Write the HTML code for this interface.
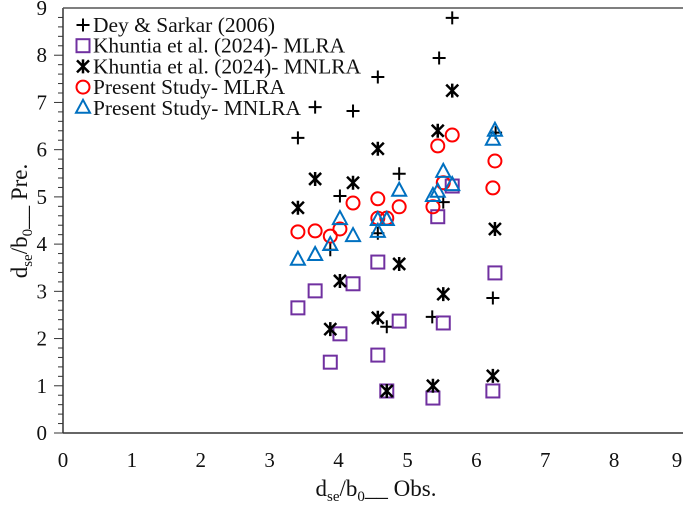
<!DOCTYPE html>
<html><head><meta charset="utf-8"><style>
body{margin:0;background:#fff}
svg text{font-family:"Liberation Serif",serif;fill:#111}
</style></head><body>
<svg id="chart" width="685" height="505" viewBox="0 0 685 505" xmlns="http://www.w3.org/2000/svg">
<g id="axes"></g><g id="marks"></g><g id="legend"></g>
</svg>
<script>
const xTicks=[0,1,2,3,4,5,6,7,8,9];
const yTicks=[0,1,2,3,4,5,6,7,8,9];
const deyX=[3.41,3.66,4.21,4.57,5.65,5.46,4.88,4.02,5.52,6.28,3.88,4.57,4.70,5.36,6.24];
const deyY=[6.25,6.90,6.82,7.54,8.79,7.94,5.49,5.02,4.89,6.36,3.88,4.23,2.25,2.46,2.86];
const kmX=[3.41,3.66,3.88,4.02,4.21,4.57,4.57,4.70,4.88,5.37,5.44,5.52,5.65,6.24,6.27];
const kmY=[2.65,3.01,1.50,2.10,3.16,3.62,1.65,0.89,2.37,0.74,4.58,2.33,5.23,0.89,3.39];
const knX=[5.65,5.44,4.57,3.66,4.21,3.41,6.27,4.88,4.02,5.52,4.57,3.88,4.70,5.37,6.24];
const knY=[7.25,6.40,6.02,5.38,5.30,4.77,4.32,3.58,3.22,2.94,2.44,2.20,0.89,1.00,1.21];
const pmX=[5.65,5.44,6.27,6.24,5.52,4.21,4.57,4.88,5.37,3.41,3.66,3.88,4.02,4.57,4.70];
const pmY=[6.31,6.08,5.76,5.19,5.30,4.87,4.96,4.79,4.79,4.26,4.28,4.17,4.32,4.55,4.55];
const pnX=[6.27,6.24,5.52,5.65,5.44,5.37,4.88,4.02,4.21,4.57,4.70,4.57,3.88,3.66,3.41];
const pnY=[6.40,6.21,5.53,5.25,5.11,5.02,5.13,4.53,4.17,4.51,4.51,4.26,3.98,3.77,3.67];

const NS="http://www.w3.org/2000/svg";
const X0=63,X1=683,Y0=433,Y1=8;
const sx=v=>X0+(X1-X0)*v/9, sy=v=>Y0-(Y0-Y1)*v/9;
function el(tag,attrs,parent){const e=document.createElementNS(NS,tag);for(const k in attrs)e.setAttribute(k,attrs[k]);parent.appendChild(e);return e;}
const axes=document.getElementById('axes'),marks=document.getElementById('marks'),legend=document.getElementById('legend');
let a=el('line',{x1:X0,y1:Y0,x2:X1,y2:Y0,stroke:'#333','stroke-width':1.5},axes);

a=el('line',{x1:X0,y1:Y0,x2:X0,y2:Y1,stroke:'#333','stroke-width':1.5},axes);

a=el('line',{x1:X0,y1:Y1,x2:X1,y2:Y1,stroke:'#555','stroke-width':1.5},axes);

for(let i=0;i<9*5;i++){const y=sy(i/5);const l=el('line',{x1:X0-(i%5===0?9:5),y1:y,x2:X0,y2:y,stroke:'#333','stroke-width':1},axes);
}
xTicks.forEach(v=>{const t=el('text',{x:Math.min(sx(v),677),y:467,'text-anchor':'middle','font-size':21},axes);t.textContent=v;
});
yTicks.forEach(v=>{const t=el('text',{x:47,y:sy(v)+7,'text-anchor':'end','font-size':21},axes);t.textContent=v;
});
let xt=el('text',{x:376,y:496,'text-anchor':'middle','font-size':23},axes);
xt.innerHTML='d<tspan font-size="15" dy="5">se</tspan><tspan dy="-5">/b</tspan><tspan font-size="15" dy="5">0</tspan><tspan dy="-5">__ Obs.</tspan>';

let yt=el('text',{x:0,y:0,'text-anchor':'middle','font-size':23,transform:'translate(27,221) rotate(-90)'},axes);
yt.innerHTML='d<tspan font-size="15" dy="5">se</tspan><tspan dy="-5">/b</tspan><tspan font-size="15" dy="5">0</tspan><tspan dy="-5">__ Pre.</tspan>';


function marker(type,cx,cy,parent){const g=el('g',{},parent);const s=6.5;
 if(type==='plus'){el('path',{d:`M${cx-s} ${cy}H${cx+s}M${cx} ${cy-s}V${cy+s}`,stroke:'#000','stroke-width':2,fill:'none'},g);}
 else if(type==='square'){el('rect',{x:cx-6.5,y:cy-6.5,width:13,height:13,stroke:'#7030A0','stroke-width':2,fill:'none'},g);}
 else if(type==='star'){el('path',{d:`M${cx-6} ${cy-6}L${cx+6} ${cy+6}M${cx-6} ${cy+6}L${cx+6} ${cy-6}M${cx} ${cy-7}V${cy+7}`,stroke:'#000','stroke-width':2.5,fill:'none'},g);}
 else if(type==='circle'){el('circle',{cx:cx,cy:cy,r:6.5,stroke:'#FF0000','stroke-width':2,fill:'none'},g);}
 else {el('path',{d:`M${cx} ${cy-8}L${cx+7} ${cy+5}L${cx-7} ${cy+5}Z`,stroke:'#0070C0','stroke-width':2,fill:'none'},g);}
 return g;}
const series=[['plus',deyX,deyY,'dey-sarkar-point'],['square',kmX,kmY,'khuntia-mlra-point'],['star',knX,knY,'khuntia-mnlra-point'],['circle',pmX,pmY,'present-mlra-point'],['tri',pnX,pnY,'present-mnlra-point']];
series.forEach(([t,xs,ys,name])=>{xs.forEach((x,i)=>{const g=marker(t,sx(x),sy(ys[i]),marks);
});});
const labels=['Dey & Sarkar (2006)','Khuntia et al. (2024)- MLRA','Khuntia et al. (2024)- MNLRA','Present Study- MLRA','Present Study- MNLRA'];
const labelW=[182,252,268,192,208];
series.forEach(([t],i)=>{const cy=25+i*20.7;const g=el('g',{},legend);

marker(t,83,cy,g);const tx=el('text',{x:93,y:cy+7,'font-size':21,textLength:labelW[i],lengthAdjust:'spacingAndGlyphs'},g);tx.textContent=labels[i];});
</script>
</body></html>
